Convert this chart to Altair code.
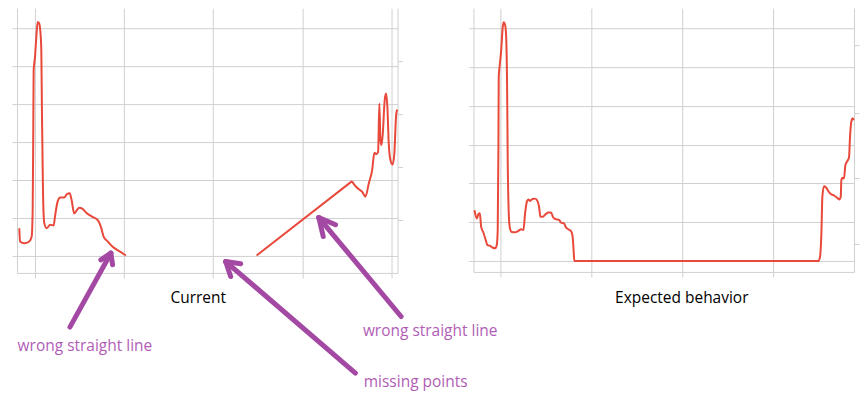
import altair as alt
import pandas as pd

# ---------------- data: "Current" panel ----------------
# piece a: left part, piece b: the wrongly drawn straight link, piece c: right part
cur_x_a = [-17.6, -16.8, -12.0, -6.4, -3.7, -2.6, -1.9, -1.5, 0.0, 1.5, 3.0, 4.5, 5.9, 7.1, 7.8,
           9.0, 10.4, 13.1, 17.1, 21.0, 22.4, 25.4, 28.3, 32.8, 35.9, 38.9, 41.1, 44.0, 47.1, 49.6,
           53.4, 58.3, 64.6, 70.9, 73.9, 77.0, 81.5, 87.1, 96.4, 102.0]
cur_y_a = [7.3, 3.8, 3.3, 3.8, 5.1, 12.1, 34.0, 48.9, 52.4, 57.7, 61.7, 61.4, 59.5, 54.2, 38.4,
           16.6, 8.7, 7.3, 8.2, 8.0, 10.3, 14.3, 15.4, 15.4, 16.3, 16.5, 14.7, 11.2, 12.1, 12.7,
           12.4, 11.2, 10.3, 9.3, 7.7, 5.1, 3.8, 2.4, 1.0, 0.1]
cur_x_b = [248.7, 355.9]
cur_y_b = [0.1, 19.7]
cur_x_c = [355.9, 358.5, 363.3, 367.2, 370.9, 374.6, 378.4, 380.9, 383.2, 385.1, 386.5,
           387.7, 388.8, 390.2, 392.5, 394.0, 395.5, 397.0, 398.9, 401.4, 403.3, 405.2, 406.4]
cur_y_c = [19.7, 18.7, 17.6, 16.9, 15.6, 19.1, 22.6, 27.2, 26.8, 27.4, 40.2,
           30.5, 29.2, 31.8, 41.1, 42.8, 39.3, 29.7, 25.3, 24.1, 27.0, 36.7, 38.6]

# ---------------- data: "Expected behavior" panel ----------------
exp_x = [-28.6, -26.0, -24.2, -22.7, -21.2, -18.7, -16.2, -14.3, -11.3, -8.8, -5.8, -4.1, -3.0, -2.2,
         -1.9, -0.8, 0.8, 2.5, 3.6, 5.2, 6.3, 7.4, 8.0, 8.8, 10.2, 12.4, 16.2, 19.8, 22.7, 25.3,
         27.1, 29.3, 31.1, 32.6, 35.2, 38.1, 40.3, 42.5, 44.0, 46.2, 49.8, 52.7, 55.7, 57.9, 60.8,
         64.5, 66.7, 70.0, 71.8, 74.7, 77.7, 79.4, 80.5, 81.3,
         100.0, 150.0, 200.0, 250.0, 300.0, 349.8,
         351.6, 353.1, 354.2, 356.0, 358.2, 360.8, 363.4, 366.3, 370.0, 372.9, 374.4, 375.1,
         376.2, 378.0, 379.5, 381.7, 383.5, 384.6, 386.0, 387.6, 388.7]
exp_y = [13.1, 11.0, 12.1, 12.3, 8.8, 7.3, 5.4, 4.1, 3.9, 3.5, 3.3, 4.1, 8.0, 30.3,
         47.5, 50.5, 54.3, 60.3, 61.6, 60.8, 57.8, 43.2, 26.0, 14.9, 8.8, 7.5, 7.4, 7.8, 8.2, 8.0,
         12.3, 15.5, 15.9, 15.5, 16.0, 16.1, 15.7, 14.0, 11.4, 11.4, 12.1, 12.5, 12.5, 11.3, 10.8,
         10.6, 9.9, 9.7, 8.8, 8.2, 7.7, 6.3, 2.8, 0.0,
         0.0, 0.0, 0.0, 0.0, 0.0, 0.0,
         1.1, 7.1, 16.6, 19.3, 19.0, 18.0, 17.3, 17.0, 16.4, 15.9, 16.6, 20.9,
         21.5, 21.3, 24.7, 25.8, 26.7, 32.0, 35.9, 36.8, 36.3]

# ---------------- annotations (in "Current" panel data units) ----------------
arrow_x0 = [39.2, 85.1, 85.1, 359.6, 214.0, 214.0, 410.9, 318.5, 318.5]
arrow_y0 = [-18.8, 0.7, 0.7, -30.9, -1.5, -1.5, -16.0, 10.1, 10.1]
arrow_x1 = [85.1, 73.9, 87.1, 214.0, 219.6, 230.8, 318.5, 323.5, 337.3]
arrow_y1 = [0.7, -1.05, -2.37, -1.5, -5.45, -2.1, 10.1, 5.1, 8.2]

note_text = ["wrong straight line", "wrong straight line", "missing points"]
note_x = [-19.5, 368.0, 369.0]
note_y = [-23.9, -19.7, -33.3]

cur_title, cur_title_x, cur_title_y = ["Current"], [183.2], [-11.0]
exp_title, exp_title_x, exp_title_y = ["Expected behavior"], [199.5], [-9.5]

# axis tick values
cur_grid_x = [0, 100, 200, 300, 400]
exp_grid_x = [0, 100, 200, 300]
grid_y = [0, 10, 20, 30, 40, 50, 60]
cur_right_ticks = [9.5, 23.4, 37.4, 51.3]
exp_right_ticks = [4.4, 21.4, 38.1, 55.6]

RED = "#e8493b"
PURPLE = "#a349a4"
TEXTPURPLE = "#b15db6"
FONT = "Open Sans"
FS = 15.5

cur_df = pd.DataFrame({
    "x": cur_x_a + cur_x_b + cur_x_c,
    "y": cur_y_a + cur_y_b + cur_y_c,
    "piece": ["a"] * len(cur_x_a) + ["b"] * len(cur_x_b) + ["c"] * len(cur_x_c),
})
exp_df = pd.DataFrame({"x": exp_x, "y": exp_y, "piece": ["a"] * len(exp_x)})
arrow_df = pd.DataFrame({"x": arrow_x0, "y0": arrow_y0, "x1": arrow_x1, "y1": arrow_y1})
note_df = pd.DataFrame({"t": note_text, "x": note_x, "y": note_y})
cur_t_df = pd.DataFrame({"t": cur_title, "x": cur_title_x, "y": cur_title_y})
exp_t_df = pd.DataFrame({"t": exp_title, "x": exp_title_x, "y": exp_title_y})


def panel(df, xdom, ydom, gx, rticks, title_df, with_notes=False, w=381, h=265):
    xs = alt.Scale(domain=xdom, nice=False, zero=False)
    ys = alt.Scale(domain=ydom, nice=False, zero=False)
    x_axis = alt.Axis(values=gx, labels=False, title=None, grid=True, ticks=True,
                      tickSize=5, domain=True, orient="bottom")
    x_ax = alt.X("x:Q", scale=xs, axis=x_axis)
    y_ax = alt.Y("y:Q", scale=ys,
                 axis=alt.Axis(values=grid_y, labels=False, title=None, grid=True, ticks=True,
                               tickSize=5, domain=True, orient="left"))
    y_plain = alt.Y("y:Q", scale=ys, axis=None)

    curve = alt.Chart(df).transform_filter(alt.datum.piece != "b").mark_line(
        color=RED, strokeWidth=2, interpolate="monotone").encode(
        x=x_ax, y=y_ax, detail="piece:N")
    layers = [curve]
    if (df["piece"] == "b").any():
        link = alt.Chart(df).transform_filter(alt.datum.piece == "b").mark_line(
            color=RED, strokeWidth=2).encode(x=x_ax, y=y_plain)
        layers.append(link)
    title = alt.Chart(title_df).mark_text(font=FONT, fontSize=FS, color="#000000", align="center",
                                          baseline="middle").encode(
        x=x_ax, y=y_plain, text="t:N")
    layers.append(title)
    if with_notes:
        arrows = alt.Chart(arrow_df).mark_rule(color=PURPLE, strokeWidth=5, strokeCap="round").encode(
            x=x_ax, y=alt.Y("y0:Q", scale=ys, axis=None),
            x2="x1:Q", y2="y1:Q")
        notes = alt.Chart(note_df).mark_text(font=FONT, fontSize=FS, color=TEXTPURPLE, align="left",
                                             baseline="middle").encode(
            x=x_ax, y=y_plain, text="t:N")
        layers += [arrows, notes]
    raxis = alt.Chart(df).mark_point(opacity=0).encode(
        x=x_ax,
        y=alt.Y("y:Q", scale=ys,
                axis=alt.Axis(orient="right", values=rticks, labels=False, title=None, grid=False,
                              ticks=True, tickSize=5, domain=True)),
    )
    layers.append(raxis)
    return alt.layer(*layers).resolve_scale(y="independent").properties(width=w, height=h)


left = panel(cur_df, [-20.2, 406.9], [-4.5, 65.3], cur_grid_x, cur_right_ticks, cur_t_df,
             with_notes=True, h=265)
right = panel(exp_df, [-29.7, 389.0], [-2.8, 65.2], exp_grid_x, exp_right_ticks, exp_t_df, h=264)

chart = alt.hconcat(left, right, spacing=76, bounds="flush").properties(
    padding={"left": 3, "top": 0, "right": 0, "bottom": 0}
).configure_axis(
    gridColor="#d0d0d0", domainColor="#d0d0d0", tickColor="#d0d0d0", gridWidth=1, domainWidth=1
).configure_view(stroke=None)

chart.save("out.html", embed_options={"renderer": "svg", "actions": False})
